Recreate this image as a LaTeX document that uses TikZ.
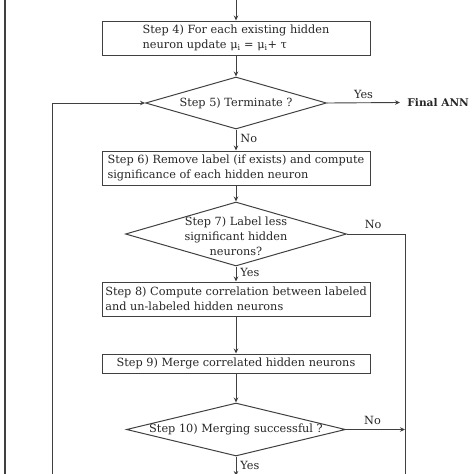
\documentclass[tikz,border=0pt]{standalone}
\usepackage{fontspec}
\setmainfont{DejaVu Serif}
\usetikzlibrary{shapes.geometric,arrows.meta}
\begin{document}
\begin{tikzpicture}[x=1pt,y=-1pt,
  font=\fontsize{11.3}{15}\selectfont,
  line width=0.9pt,
  every node/.style={text=black!85},
  stepbox/.style={draw=black!75,rectangle,minimum width=268pt,inner sep=0pt,line width=1pt},
  dia/.style={draw=black!75,diamond,inner sep=0pt,line width=1pt},
  conn/.style={draw=black!75,-{Stealth[length=5pt,width=4.5pt]}},
  plain/.style={draw=black!75},
  lbl/.style={inner sep=0pt}
]
\useasboundingbox (0,0) rectangle (474,474);

\coordinate (top) at (236,0);
\node[stepbox,minimum height=34pt] (b4) at (236,38) {};
\node[align=left,lbl] at (236,37.5) {Step 4) For each existing hidden\\neuron update μ\textsubscript{i} = μ\textsubscript{i}+ τ};

\node[dia,minimum width=181pt,minimum height=52pt] (d5) at (236,103) {};
\node[lbl] at (d5) {Step 5) Terminate ?};

\node[inner ysep=0pt,inner xsep=7pt,anchor=west,font=\fontsize{10.6}{13}\selectfont\bfseries] (ann) at (400,102.5) {Final ANN};

\node[stepbox,minimum height=34pt] (b6) at (236,168) {};
\node[align=left,lbl] at (b6) {Step 6) Remove label (if exists) and compute\\significance of each hidden neuron};

\node[dia,minimum width=221pt,minimum height=64pt] (d7) at (236,234) {};
\node[align=center,lbl] at (236,236) {Step 7) Label less\\significant hidden\\neurons?};

\node[stepbox,minimum height=34pt] (b8) at (236,299) {};
\node[align=left,lbl] at (b8) {Step 8) Compute correlation between labeled\\and un-labeled hidden neurons};

\node[stepbox,minimum height=19pt] (b9) at (236,363.5) {};
\node[lbl] at (b9) {Step 9) Merge correlated hidden neurons};

\node[dia,minimum width=219pt,minimum height=53pt] (d10) at (236,429.5) {};
\node[lbl] at (d10) {Step 10) Merging successful ?};

\coordinate (bot) at (236,476);
\coordinate (rtop) at (405,234);
\coordinate (rmid) at (405,429.5);
\coordinate (rbot) at (405,474);
\coordinate (lbot) at (52,474);
\coordinate (lmid) at (52,103);
\coordinate (ftop) at (5,0);
\coordinate (fbot) at (5,474);

\draw[conn] (top) -- (b4.north);
\draw[conn] (b4.south) -- (d5.north);
\draw[conn] (d5.east) -- node[lbl,above=4pt] {Yes} (ann.west);
\draw[conn] (d5.south) -- node[lbl,right=4pt,pos=0.45] {No} (b6.north);
\draw[conn] (b6.south) -- (d7.north);
\draw[conn] (d7.south) -- node[lbl,right=4pt,pos=0.4] {Yes} (b8.north);
\draw[plain] (d7.east) -- node[lbl,above=5pt,pos=0.45] {No} (rtop) -- (rbot);
\draw[conn] (b8.south) -- (b9.north);
\draw[conn] (b9.south) -- (d10.north);
\draw[conn] (d10.east) -- node[lbl,above=4pt,pos=0.45] {No} (rmid);
\draw[conn] (d10.south) -- node[lbl,right=4pt,pos=0.45] {Yes} (bot);
\draw[plain] (lbot) -- (lmid);
\draw[conn] (lmid) -- (d5.west);
\draw[plain,line width=1.2pt] (ftop) -- (fbot);
\end{tikzpicture}
\end{document}
